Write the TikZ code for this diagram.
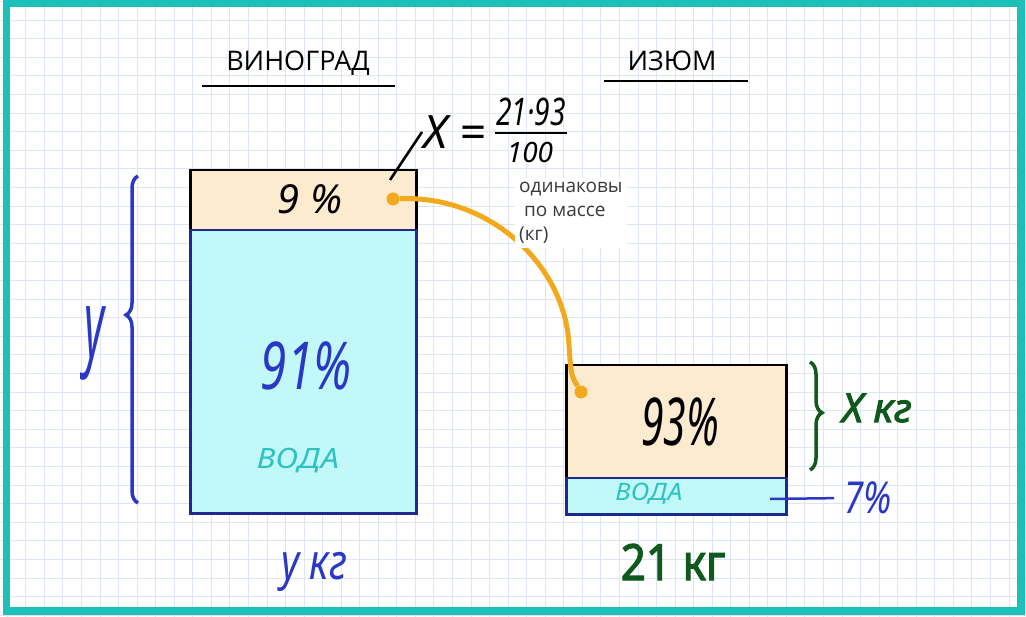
\documentclass[tikz,border=0pt]{standalone}
\usepackage{fontspec}
\setmainfont{Open Sans}
\newfontfamily\hand{Noto Sans}
\newfontfamily\handheavy[FakeBold=2.5]{Noto Sans}
\usetikzlibrary{decorations.pathreplacing}

\definecolor{frameteal}{HTML}{1DBFB9}
\definecolor{gridblue}{HTML}{DDE6F2}
\definecolor{peach}{HTML}{FDEBCF}
\definecolor{aqua}{HTML}{C2F9F8}
\definecolor{navy}{HTML}{1E2A8C}
\definecolor{inkblue}{HTML}{2A38C8}
\definecolor{inkgreen}{HTML}{0E5A1C}
\definecolor{inkaqua}{HTML}{2EC2C2}
\definecolor{orng}{HTML}{F2A91E}
\definecolor{note}{HTML}{3A3A3A}

\tikzset{
  part/.style={draw=black,line width=2.5,anchor=north west,inner sep=0},
  title/.style={font=\fontsize{27}{30}\selectfont},
  hw/.style={font=\hand\itshape\fontsize{#1}{#1}\selectfont,inner sep=0,transform shape},
  hwheavy/.style={font=\handheavy\itshape\fontsize{#1}{#1}\selectfont,inner sep=0,transform shape},
  hwupright/.style={font=\handheavy\fontsize{#1}{#1}\selectfont,inner sep=0,transform shape},
  bracemark/.style={decorate,decoration={brace,amplitude=12,aspect=#1},line width=3.5},
}

\begin{document}
\begin{tikzpicture}[x=1pt,y=-1pt]
\useasboundingbox (0,0) rectangle (1026,617);
\fill[white] (0,0) rectangle (1026,617);

% squared paper
\begin{scope}
\clip (0,0) rectangle (1026,617);
\foreach \i in {0,...,55} \draw[gridblue,line width=1] ({7.3+18.55*\i},0) -- ++(0,617);
\foreach \j in {0,...,33} \draw[gridblue,line width=1] (0,{1.5+18.6*\j}) -- ++(1026,0);
\end{scope}
\draw[frameteal,line width=7.5] (6.5,3.5) rectangle (1021,611);

% titles
\node[title] (grapeTitle) at (298,63) {ВИНОГРАД};
\draw[line width=2] (202,86) -- (395,86);
\node[title] (raisinTitle) at (672,61) {ИЗЮМ};
\draw[line width=2] (604,81) -- (748,81);

% grapes
\node[part,fill=peach,minimum width=226,minimum height=60] (grapeDry) at (189,169) {};
\node[part,draw=navy,fill=aqua,minimum width=226,minimum height=283] (grapeWater) at (189,229) {};
\node[hw=40,text=black] (grapeDryPct) at (310,199) {9 \%};
\node[hw=66,text=inkblue,xscale=0.72] (grapeWaterPct) at (306,366) {91\%};
\node[hw=28,text=inkaqua,xscale=1.15] (grapeWaterLbl) at (298,461) {ВОДА};

% raisins
\node[part,fill=peach,minimum width=220,minimum height=113] (raisinDry) at (565,364) {};
\node[part,draw=navy,fill=aqua,minimum width=220,minimum height=36] (raisinWater) at (565,477) {};
\node[hw=66,text=black,xscale=0.62] (raisinDryPct) at (680,422) {93\%};
\node[hw=24,text=inkaqua,xscale=1.1] (raisinWaterLbl) at (649,494) {ВОДА};

% braces and masses
\draw[inkblue,bracemark=0.575] (138,503) -- (138,176);
\node[hw=95,text=inkblue,xscale=0.45] (ySide) at (94,343) {y};
\node[hw=50,text=inkblue,xscale=0.78] (grapeMass) at (314,572) {y кг};
\draw[inkgreen,bracemark=0.47] (810,362) -- (810,470);
\node[hwheavy=40,text=inkgreen] (dryMass) at (877,408) {X кг};
\node[hwupright=50,text=inkgreen,xscale=0.88] (raisinMass) at (673,562) {21 кг};
\node[hw=44,text=inkblue,xscale=0.8] (waterPct) at (868,498) {7\%};
\coordinate (waterTick) at (770,499);
\draw[inkblue,line width=2.5,shorten >=10] (waterTick) -- (waterPct.west);

% formula
\node[hw=46,text=black] (xEq) at (455,132) {X =};
\node[hw=38,text=black,xscale=0.74] (fracTop) at (531,112) {21·93};
\node[hw=28,text=black] (fracBot) at (530,152) {100};
\draw[line width=2.5] (495,133) -- (567,133);
\coordinate (slashFoot) at (390,180);
\draw[line width=2.5] (slashFoot) -- (422,132);

% same dry mass
\node[circle,fill=orng,minimum size=13,inner sep=0] (grapeDot) at (393,199) {};
\node[circle,fill=orng,minimum size=13,inner sep=0] (raisinDot) at (581,392) {};
\draw[orng,line width=5] (grapeDot) .. controls (490,195) and (565,265) .. (569,345)
  .. controls (571,375) .. (raisinDot);
\node[fill=white,text=note,align=left,anchor=north west,inner sep=4,
  font=\fontsize{19}{24}\selectfont] (sameNote) at (515,178) {одинаковы\\\ по массе\\(кг)};
\end{tikzpicture}
\end{document}
